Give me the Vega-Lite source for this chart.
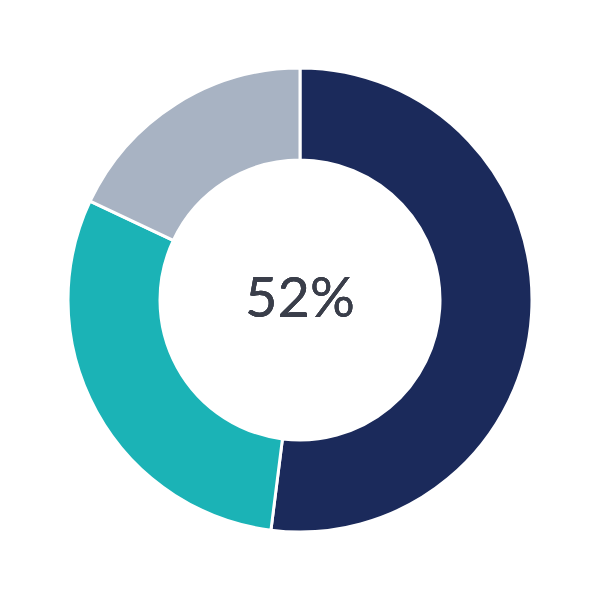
{
  "$schema": "https://vega.github.io/schema/vega-lite/v6.json",
  "description": "Donut 52%",
  "width": 600,
  "height": 600,
  "padding": 0,
  "autosize": {"type": "fit", "contains": "padding"},
  "background": "white",
  "view": {"stroke": null},
  "data": {
    "values": [
      {"segment": "A", "share": 52, "rank": 1},
      {"segment": "B", "share": 30, "rank": 2},
      {"segment": "C", "share": 18, "rank": 3}
    ]
  },
  "layer": [
    {
      "mark": {"type": "arc", "outerRadius": 232, "innerRadius": 140, "stroke": "white", "strokeWidth": 3},
      "encoding": {
        "theta": {"field": "share", "type": "quantitative", "stack": true},
        "order": {"field": "rank", "type": "quantitative"},
        "color": {
          "field": "segment",
          "type": "nominal",
          "scale": {"domain": ["A", "B", "C"], "range": ["#1b2a5b", "#1bb3b6", "#a8b3c3"]},
          "legend": null
        }
      }
    },
    {
      "mark": {"type": "text", "text": "52%", "font": "Lato", "fontSize": 56, "fontWeight": 400, "color": "#3a3e4a", "align": "center", "baseline": "middle"},
      "encoding": {}
    }
  ]
}
